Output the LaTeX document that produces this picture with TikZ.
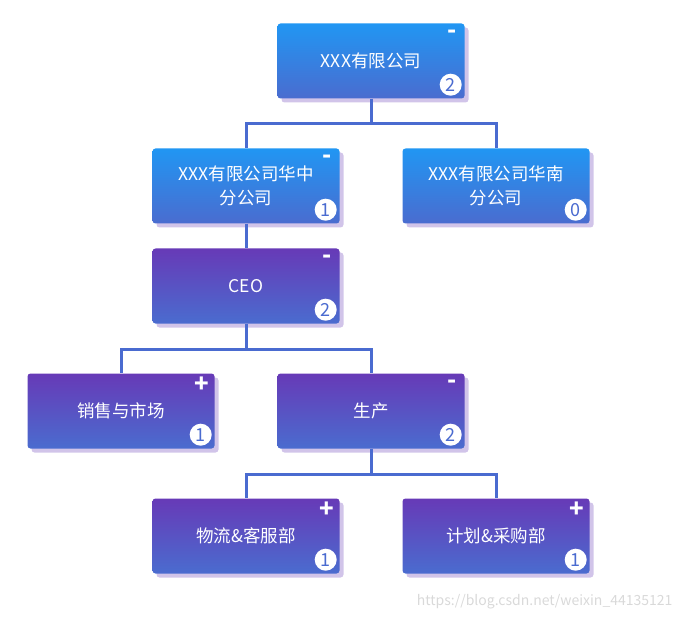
\documentclass[tikz,border=0pt]{standalone}
\usepackage{fontspec}
\setmainfont{Noto Sans CJK SC}
\usetikzlibrary{shadows}
\definecolor{linkblue}{HTML}{4A6BD0}
\definecolor{topblue}{HTML}{2196F3}
\definecolor{toppurple}{HTML}{673AB7}
\definecolor{botblue}{HTML}{4A6CCF}
\tikzset{
  orgbox/.style={rectangle, rounded corners=3pt, minimum width=187pt, minimum height=75pt,
    text width=170pt, align=center, text=white, font=\fontsize{17.5}{24}\selectfont,
    drop shadow={shadow xshift=4pt, shadow yshift=-4pt, fill=toppurple!60, opacity=0.5}},
  bluebox/.style={orgbox, top color=topblue, bottom color=botblue},
  purplebox/.style={orgbox, top color=toppurple, bottom color=botblue},
  badge/.style={circle, fill=white, inner sep=0pt, minimum size=22pt, text=linkblue,
    font=\fontsize{18}{18}\selectfont},
  sign/.style={text=white, font=\bfseries\fontsize{24}{24}\selectfont, inner sep=0pt},
  link/.style={draw=linkblue, line width=3pt}
}
\begin{document}
\begin{tikzpicture}[x=1pt, y=-1pt]
  \useasboundingbox (0,0) rectangle (682,620);
  % Connectors
  \coordinate (r1) at (371,124);
  \coordinate (r2) at (246,349);
  \coordinate (r3) at (371,474);
  % Boxes
  \node[bluebox] (root) at (371,61) {XXX有限公司};
  \node[bluebox] (central) at (246,186) {XXX有限公司华中\\分公司};
  \node[bluebox] (south) at (496,186) {XXX有限公司华南\\分公司};
  \node[purplebox] (ceo) at (246,286) {CEO};
  \node[purplebox] (sales) at (121,411) {销售与市场};
  \node[purplebox] (prod) at (371,411) {生产};
  \node[purplebox] (logi) at (246,536) {物流\&客服部};
  \node[purplebox] (plan) at (496,536) {计划\&采购部};
  % Links
  \draw[link] (root.south) -- (r1);
  \draw[link] (r1) -| (central.north);
  \draw[link] (r1) -| (south.north);
  \draw[link] (central.south) -- (ceo.north);
  \draw[link] (ceo.south) -- (r2);
  \draw[link] (r2) -| (sales.north);
  \draw[link] (r2) -| (prod.north);
  \draw[link] (prod.south) -- (r3);
  \draw[link] (r3) -| (logi.north);
  \draw[link] (r3) -| (plan.north);
  % Badges and signs
  \foreach \n/\c/\s in {root/2/-, central/1/-, south/0/, ceo/2/-, sales/1/+, prod/2/-, logi/1/+, plan/1/+} {
    \node[badge] (\n-count) at ([xshift=-14pt, yshift=14pt]\n.south east) {\c};
    \node[sign] (\n-sign) at ([xshift=-13pt, yshift=-11pt]\n.north east) {\s};
  }
  \node[text=gray!30, font=\fontsize{14}{14}\selectfont, anchor=east] (mark) at (676,602) {https://blog.csdn.net/weixin\_44135121};
\end{tikzpicture}
\end{document}
